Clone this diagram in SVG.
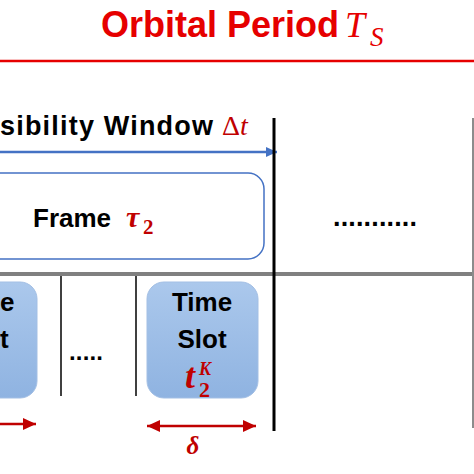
<svg xmlns="http://www.w3.org/2000/svg" width="474" height="474" viewBox="0 0 474 474">
<style>
.lbl{font-family:"Liberation Sans",Arial,sans-serif;font-weight:bold;fill:#000}
.math{font-family:"Liberation Serif","DejaVu Serif",serif;font-style:italic}
.dark{fill:#c00000}
.slot{fill:url(#slotGrad);stroke:#a3bfe4;stroke-width:1}
.dots{font-family:"Liberation Sans",Arial,sans-serif;font-weight:bold;fill:#000}
</style>
<defs>
<linearGradient id="slotGrad" x1="0" y1="0" x2="0" y2="1">
<stop offset="0" stop-color="#abc8ec"/>
<stop offset="1" stop-color="#8fb3e1"/>
</linearGradient>
<marker id="blueHead" markerUnits="userSpaceOnUse" markerWidth="12" markerHeight="12" refX="11" refY="6" orient="auto">
<path d="M0,1 L11,6 L0,11 Z" fill="#4472c4"/>
</marker>
<marker id="redHead" markerUnits="userSpaceOnUse" markerWidth="14" markerHeight="14" refX="13" refY="7" orient="auto-start-reverse">
<path d="M0,1 L13,7 L0,13 Z" fill="#c00000"/>
</marker>
</defs>
<rect width="474" height="474" fill="#fff"/>

<g id="title">
<text x="101" y="37" class="lbl" font-size="36" style="fill:#e60000">Orbital Period</text>
<text x="345" y="37" class="math" font-size="36" fill="#e60000">T</text>
<text x="370" y="46" class="math" font-size="27" fill="#e60000">S</text>
</g>

<g id="visibility-window">
<text x="0" y="135" class="lbl" font-size="27" textLength="213" lengthAdjust="spacing">sibility Window</text>
<text x="222" y="135" font-family="Liberation Serif,serif" font-size="28" class="dark">Δ</text>
<text x="240" y="135" class="math dark" font-size="28">t</text>
</g>

<g id="frame">
<rect x="-20" y="173" width="284" height="86" rx="16" fill="none" stroke="#4472c4" stroke-width="1.5"/>
<text x="33" y="227" class="lbl" font-size="26">Frame</text>
<text x="126" y="227" class="math dark" font-size="30" font-weight="bold">τ</text>
<text x="143" y="234" font-family="Liberation Serif,serif" font-weight="bold" font-size="21" class="dark">2</text>
</g>

<g id="frame-more">
<text x="333" y="226" class="dots" font-size="27" textLength="84">...........</text>
</g>

<g id="slot-left">
<rect x="-74" y="282" width="111" height="116" rx="17" class="slot"/>
<text x="0" y="311" class="lbl" font-size="26">e</text>
<text x="0" y="348" class="lbl" font-size="26">t</text>
</g>

<g id="slot-more">
<text x="69" y="360" class="dots" font-size="24" textLength="34">.....</text>
</g>

<g id="slot-k">
<rect x="147" y="282" width="111" height="116" rx="17" class="slot"/>
<text x="202" y="311" class="lbl" font-size="26" text-anchor="middle">Time</text>
<text x="202" y="348" class="lbl" font-size="26" text-anchor="middle">Slot</text>
<text x="185" y="388" class="math dark" font-size="36" font-weight="bold">t</text>
<text x="199" y="375" class="math dark" font-size="18" font-weight="bold">K</text>
<text x="199" y="397" font-family="Liberation Serif,serif" font-weight="bold" font-size="22" class="dark">2</text>
</g>

<g id="delta-label">
<text x="193" y="454" class="math dark" font-size="25" font-weight="bold" text-anchor="middle">δ</text>
</g>

<g id="connectors">
<line x1="0" y1="61" x2="474" y2="61" stroke="#e60000" stroke-width="2.5"/>
<line x1="0" y1="152" x2="277" y2="152" stroke="#4472c4" stroke-width="2.5" marker-end="url(#blueHead)"/>
<line x1="0" y1="274" x2="474" y2="274" stroke="#808080" stroke-width="4"/>
<line x1="274" y1="118" x2="274" y2="431" stroke="#000" stroke-width="3"/>
<line x1="473" y1="118" x2="473" y2="428" stroke="#8c8c8c" stroke-width="2"/>
<line x1="61" y1="276" x2="61" y2="396" stroke="#000" stroke-width="1.5"/>
<line x1="136" y1="276" x2="136" y2="396" stroke="#000" stroke-width="1.5"/>
<line x1="-20" y1="424" x2="36" y2="424" stroke="#c00000" stroke-width="2.5" marker-end="url(#redHead)"/>
<line x1="147" y1="426" x2="256" y2="426" stroke="#c00000" stroke-width="2.5" marker-start="url(#redHead)" marker-end="url(#redHead)"/>
</g>
</svg>
